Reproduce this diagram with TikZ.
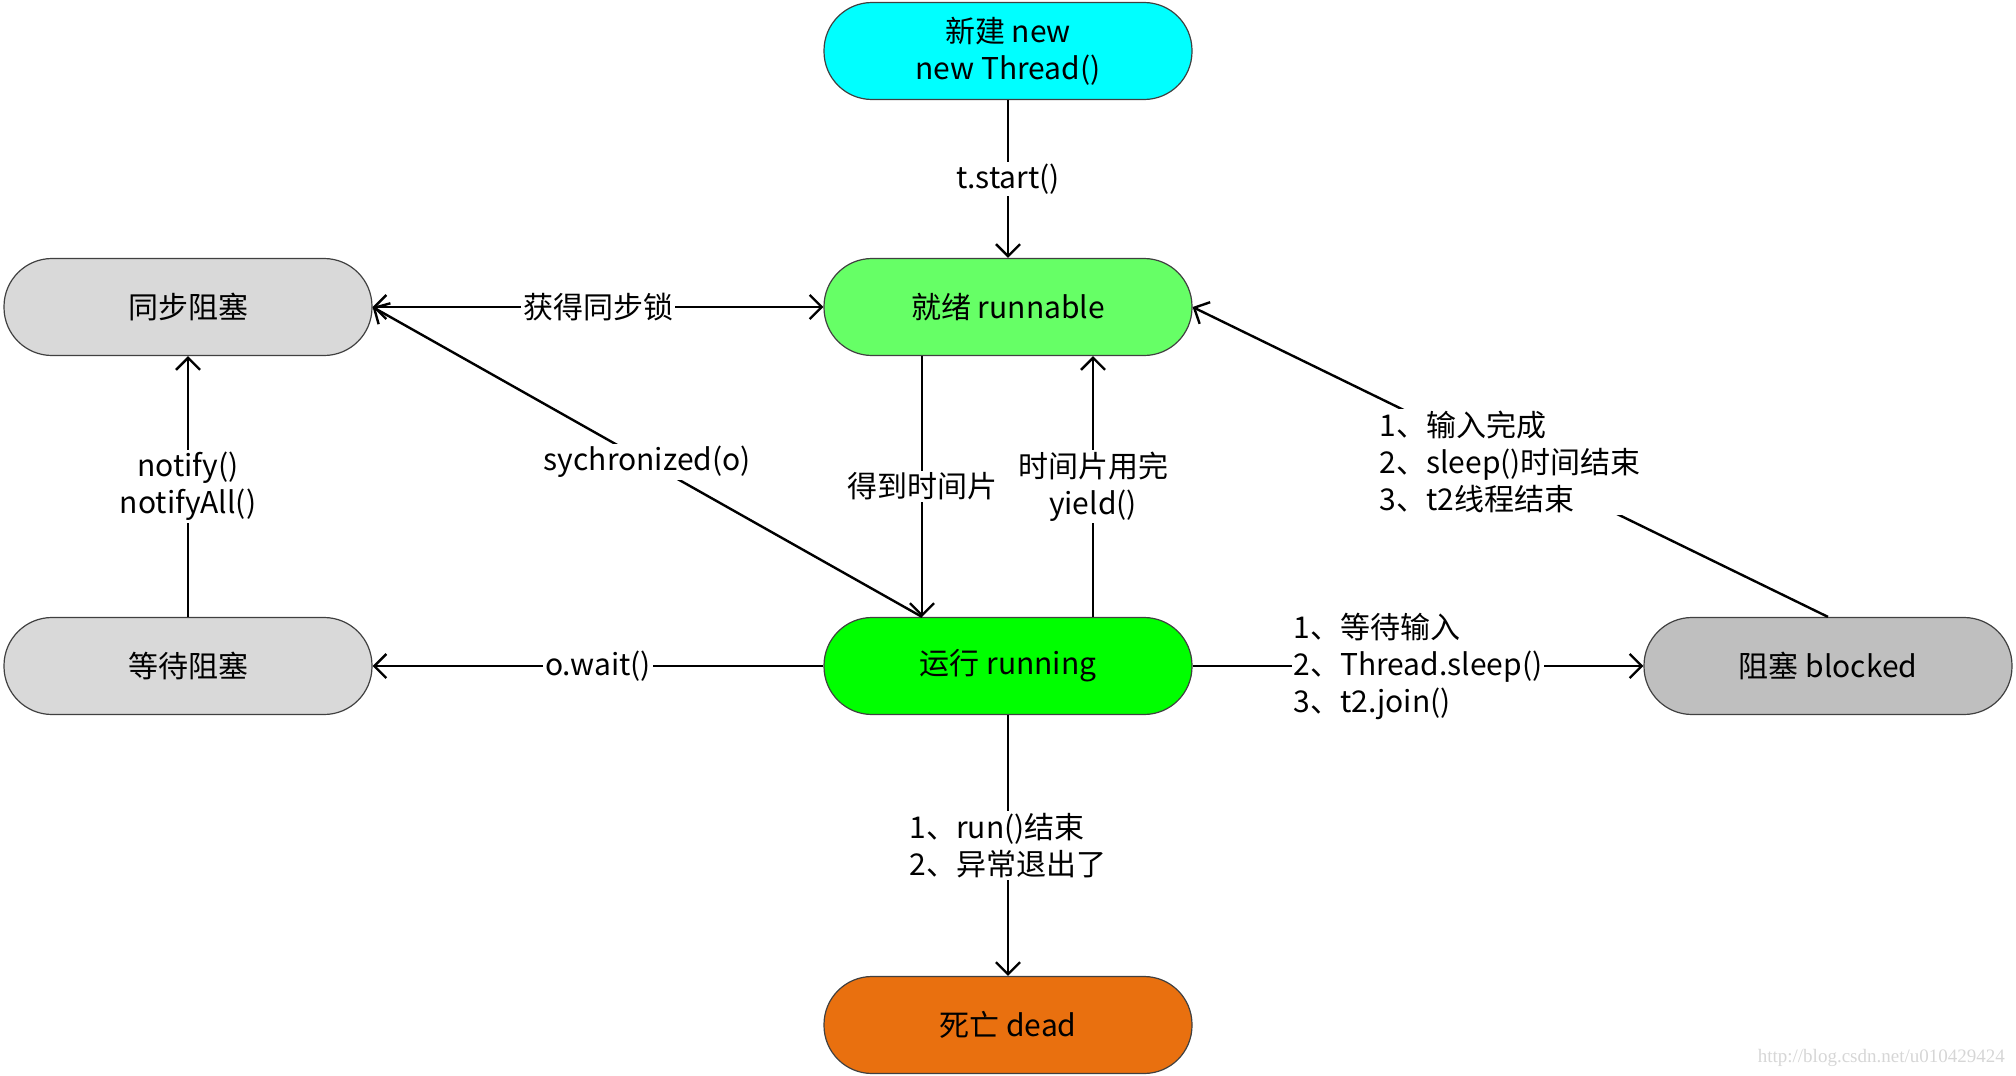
\documentclass[tikz,border=0pt]{standalone}
\usepackage{fontspec}
\setmainfont{Noto Sans CJK SC}
\newfontfamily\cjk{Noto Sans CJK SC}
\newfontfamily\wmfont{Liberation Serif}
\newcommand\zh[1]{{\cjk #1}}
\usetikzlibrary{arrows.meta}
\definecolor{cnew}{HTML}{00FFFF}
\definecolor{crunnable}{HTML}{66FF66}
\definecolor{crunning}{HTML}{00FF00}
\definecolor{cdead}{HTML}{E9700F}
\definecolor{cgrey}{HTML}{D9D9D9}
\definecolor{cblocked}{HTML}{BFBFBF}
\definecolor{cwm}{HTML}{D6D6D6}
\begin{document}
\begin{tikzpicture}[x=1pt,y=-1pt,
  >={Straight Barb[length=12pt,width=24pt]},
  state/.style={draw=black!75, line width=1.2pt, rounded corners=48pt,
    minimum width=368pt, minimum height=97pt, inner sep=0pt, align=center,
    font=\fontsize{30}{37}\selectfont},
  conn/.style={line width=2.4pt, ->},
  lab/.style={fill=white, inner sep=2pt, font=\fontsize{30}{37}\selectfont},
]
\useasboundingbox (0,0) rectangle (2016,1076);

\node[state, fill=cnew] (new) at (1008,51) {\zh{新建} new\\new Thread()};
\node[state, fill=crunnable] (runnable) at (1008,307) {\zh{就绪} runnable};
\node[state, fill=crunning] (running) at (1008,666) {\zh{运行} running};
\node[state, fill=cdead] (dead) at (1008,1025) {\zh{死亡} dead};
\node[state, fill=cgrey] (sync) at (188,307) {\zh{同步阻塞}};
\node[state, fill=cgrey] (wait) at (188,666) {\zh{等待阻塞}};
\node[state, fill=cblocked] (blocked) at (1828,666) {\zh{阻塞} blocked};

\draw[conn] (new) -- node[lab]{t.start()} (runnable);
\draw[conn, <->] (sync) -- node[lab]{\zh{获得同步锁}} (runnable);
\draw[conn] ([xshift=-86pt]running.north) -- node[lab]{sychronized(o)} (sync.east);
\draw[conn] ([xshift=-86pt]runnable.south) -- node[lab]{\zh{得到时间片}} ([xshift=-86pt]running.north);
\draw[conn] ([xshift=85pt]running.north) -- node[lab, align=center]{\zh{时间片用完}\\yield()} ([xshift=85pt]runnable.south);
\draw[conn] (wait) -- node[lab, align=center]{notify()\\notifyAll()} (sync);
\draw[conn] (running) -- node[lab]{o.wait()} (wait);
\draw[conn] (running) -- node[lab, align=left]{1\zh{、等待输入}\\2\zh{、}Thread.sleep()\\3\zh{、}t2.join()} (blocked);
\draw[conn] (blocked.north) -- node[lab, align=left]{1\zh{、输入完成}\\2\zh{、}sleep()\zh{时间结束}\\3\zh{、}t2\zh{线程结束}} (runnable.east);
\draw[conn] (running) -- node[lab, align=left]{1\zh{、}run()\zh{结束}\\2\zh{、异常退出了}} (dead);

\node[font=\wmfont\fontsize{19}{20}\selectfont, text=cwm, anchor=base east, inner sep=0pt] (wm) at (2005,1062) {http://blog.csdn.net/u010429424};
\end{tikzpicture}
\end{document}
